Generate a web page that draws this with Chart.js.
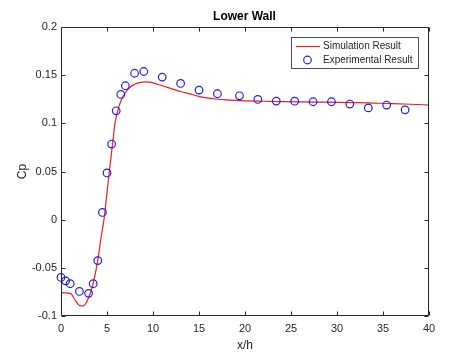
<!DOCTYPE html>
<html><head><meta charset="utf-8">
<script src="https://cdn.jsdelivr.net/npm/chart.js@4"></script>
<style>html,body{margin:0;padding:0;background:#fff}#wrap{width:474px;height:355px}</style>
</head><body><div id="wrap"><canvas id="c" width="474" height="355"></canvas></div>
<script>
const titleText = 'Lower Wall';
const xTitle = 'x/h';
const yTitle = 'Cp';
const seriesNames = ['Simulation Result', 'Experimental Result'];
const xTicks = [0, 5, 10, 15, 20, 25, 30, 35, 40];
const yTicks = [-0.1, -0.05, 0, 0.05, 0.1, 0.15, 0.2];
const yTickLabels = ['-0.1', '-0.05', '0', '0.05', '0.1', '0.15', '0.2'];

const simX = [0, 0.5, 1, 1.2, 1.5, 1.8, 2.1, 2.4, 2.7, 3.0, 3.3, 3.6, 4.0, 4.3, 4.67, 5.0, 5.25, 5.6, 5.87, 6.25, 6.5, 7, 7.5, 8, 8.5, 9.2, 9.6, 10, 11, 12, 13, 14, 15, 16, 17, 18, 19, 20, 22, 24, 26, 28, 30, 32, 34, 36, 38, 40];
const simY = [-0.076, -0.076, -0.0765, -0.078, -0.083, -0.087, -0.0895, -0.0895, -0.087, -0.081, -0.073, -0.062, -0.042, -0.022, 0.0, 0.028, 0.05, 0.078, 0.1, 0.116, 0.123, 0.132, 0.1375, 0.1405, 0.1423, 0.143, 0.1427, 0.142, 0.139, 0.136, 0.133, 0.1305, 0.128, 0.1262, 0.125, 0.1243, 0.1238, 0.1234, 0.1229, 0.1225, 0.1222, 0.122, 0.1218, 0.1215, 0.121, 0.1205, 0.1198, 0.119];

const expX = [0, 0.5, 1, 2, 3, 3.5, 4, 4.5, 5, 5.5, 6, 6.5, 7, 8, 9, 11, 13, 15, 17, 19.4, 21.4, 23.4, 25.4, 27.4, 29.4, 31.4, 33.4, 35.4, 37.4];
const expY = [-0.060, -0.0635, -0.0665, -0.0745, -0.0765, -0.0665, -0.0425, 0.0075, 0.0485, 0.0785, 0.113, 0.130, 0.139, 0.152, 0.1538, 0.148, 0.1414, 0.1345, 0.1307, 0.1286, 0.1248, 0.1231, 0.123, 0.1224, 0.1224, 0.120, 0.116, 0.119, 0.114];

const FONT = '"Liberation Sans", Arial, Helvetica, sans-serif';
const AXC = '#262626';
const RED = 'rgb(235,30,30)';
const BLUE = 'rgb(30,30,235)';

const boxPlugin = {
  id: 'boxPlugin',
  afterDatasetsDraw(chart) {
    const {ctx, chartArea: a, scales} = chart;
    const L = Math.round(a.left) + 0.5, R = Math.round(a.right) - 0.5;
    const T = Math.round(a.top) + 0.5, B = Math.round(a.bottom) - 0.5;
    ctx.save();
    ctx.strokeStyle = AXC;
    ctx.lineWidth = 1;
    ctx.beginPath();
    ctx.rect(L, T, R - L, B - T);
    const tl = 4;
    xTicks.forEach(v => {
      const x = Math.round(scales.x.getPixelForValue(v)) + 0.5;
      ctx.moveTo(x, B); ctx.lineTo(x, B - tl);
      ctx.moveTo(x, T); ctx.lineTo(x, T + tl);
    });
    yTicks.forEach(v => {
      const y = Math.round(scales.y.getPixelForValue(v)) + 0.5;
      ctx.moveTo(L, y); ctx.lineTo(L + tl, y);
      ctx.moveTo(R, y); ctx.lineTo(R - tl, y);
    });
    ctx.stroke();

    // legend
    const lx = 291.5, ly = 37.5, lw = 127, lh = 31;
    ctx.fillStyle = '#fff';
    ctx.fillRect(lx, ly, lw, lh);
    ctx.strokeStyle = AXC;
    ctx.lineWidth = 0.8;
    ctx.strokeRect(lx, ly, lw, lh);
    ctx.strokeStyle = RED;
    ctx.lineWidth = 1.2;
    ctx.beginPath();
    ctx.moveTo(296, 46.5); ctx.lineTo(320, 46.5);
    ctx.stroke();
    ctx.strokeStyle = BLUE;
    ctx.lineWidth = 1.2;
    ctx.beginPath();
    ctx.arc(307.5, 60, 3.8, 0, Math.PI * 2);
    ctx.stroke();
    ctx.fillStyle = AXC;
    ctx.font = '10px ' + FONT;
    ctx.textBaseline = 'middle';
    ctx.textAlign = 'left';
    ctx.fillText(chart.data.datasets[0].label, 323, 46.5);
    ctx.fillText(chart.data.datasets[1].label, 323, 60.5);
    ctx.restore();
  }
};

new Chart(document.getElementById('c'), {
  type: 'scatter',
  data: {
    datasets: [
      {
        label: seriesNames[0],
        data: simX.map((x, i) => ({x, y: simY[i]})),
        showLine: true,
        borderColor: RED,
        borderWidth: 1.2,
        pointRadius: 0,
        cubicInterpolationMode: 'monotone',
        fill: false,
        order: 2
      },
      {
        label: seriesNames[1],
        data: expX.map((x, i) => ({x, y: expY[i]})),
        showLine: false,
        borderColor: BLUE,
        backgroundColor: 'rgba(0,0,0,0)',
        borderWidth: 1.2,
        pointRadius: 3.8,
        pointStyle: 'circle',
        clip: false,
        order: 1
      }
    ]
  },
  options: {
    responsive: false,
    animation: false,
    devicePixelRatio: 1,
    layout: {padding: {left: 15, right: 0, top: 0, bottom: 0}},
    plugins: {
      legend: {display: false},
      tooltip: {enabled: false},
      title: {
        display: true,
        text: titleText,
        color: '#000',
        font: {family: FONT, size: 12, weight: 'bold'},
        padding: {top: 9, bottom: 3.6}
      }
    },
    scales: {
      x: {
        type: 'linear',
        min: 0, max: 40,
        afterBuildTicks: s => { s.ticks = xTicks.map(v => ({value: v})); },
        afterFit: s => { s.height = 39; },
        grid: {display: false, drawTicks: false},
        border: {display: false},
        ticks: {color: AXC, font: {family: FONT, size: 11}, padding: 6, maxRotation: 0, autoSkip: false},
        title: {display: true, text: xTitle, color: AXC, font: {family: FONT, size: 12}, padding: {top: 0, bottom: 2}}
      },
      y: {
        type: 'linear',
        min: -0.1, max: 0.2,
        afterBuildTicks: s => { s.ticks = yTicks.map(v => ({value: v})); },
        afterFit: s => { s.width = 46; },
        grid: {display: false, drawTicks: false},
        border: {display: false},
        ticks: {
          color: AXC, font: {family: FONT, size: 11}, padding: 4, autoSkip: false,
          callback: (v, i) => yTickLabels[i]
        },
        title: {display: true, text: yTitle, color: AXC, font: {family: FONT, size: 12}, padding: {top: 0, bottom: 0}}
      },
      y2: {
        type: 'linear',
        position: 'right',
        min: -0.1, max: 0.2,
        afterFit: s => { s.width = 45; },
        grid: {display: false, drawTicks: false},
        border: {display: false},
        ticks: {display: false}
      }
    }
  },
  plugins: [boxPlugin]
});
</script>
</body></html>
